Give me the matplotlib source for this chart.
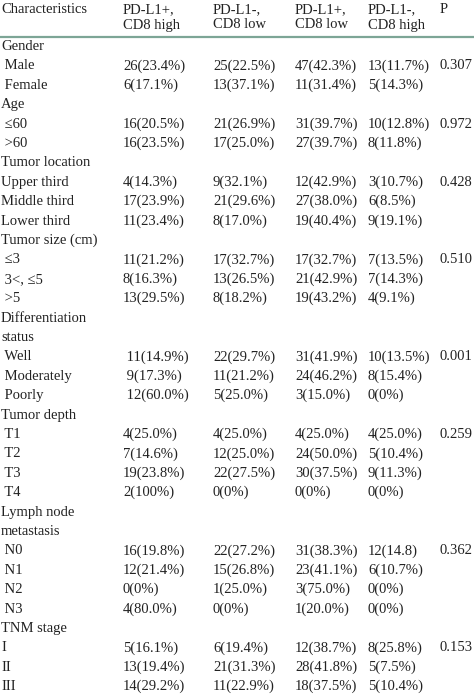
import matplotlib
matplotlib.use("Agg")
import matplotlib.pyplot as plt

headers = ["Characteristics", "PD-L1+,\nCD8 high", "PD-L1-,\nCD8 low", "PD-L1+,\nCD8 low", "PD-L1-,\nCD8 high", "P"]
characteristics = ["Gender", " Male", " Female", "Age", " ≤60", " >60", "Tumor location",
    "Upper third", "Middle third", "Lower third", "Tumor size (cm)", " ≤3", " 3<, ≤5", " >5",
    "Differentiation", "status", " Well", " Moderately", " Poorly", "Tumor depth",
    " T1", " T2", " T3", " T4", "Lymph node", "metastasis", " N0", " N1", " N2", " N3",
    "TNM stage", "I", "II", "III"]
col1 = ["", "26(23.4%)", "6(17.1%)", "", "16(20.5%)", "16(23.5%)", "", "4(14.3%)", "17(23.9%)", "11(23.4%)",
        "", "11(21.2%)", "8(16.3%)", "13(29.5%)", "", "", " 11(14.9%)", " 9(17.3%)", " 12(60.0%)", "",
        "4(25.0%)", "7(14.6%)", "19(23.8%)", "2(100%)", "", "", "16(19.8%)", "12(21.4%)", "0(0%)", "4(80.0%)",
        "", "5(16.1%)", "13(19.4%)", "14(29.2%)"]
col2 = ["", "25(22.5%)", "13(37.1%)", "", "21(26.9%)", "17(25.0%)", "", "9(32.1%)", "21(29.6%)", "8(17.0%)",
        "", "17(32.7%)", "13(26.5%)", "8(18.2%)", "", "", "22(29.7%)", "11(21.2%)", "5(25.0%)", "",
        "4(25.0%)", "12(25.0%)", "22(27.5%)", "0(0%)", "", "", "22(27.2%)", "15(26.8%)", "1(25.0%)", "0(0%)",
        "", "6(19.4%)", "21(31.3%)", "11(22.9%)"]
col3 = ["", "47(42.3%)", "11(31.4%)", "", "31(39.7%)", "27(39.7%)", "", "12(42.9%)", "27(38.0%)", "19(40.4%)",
        "", "17(32.7%)", "21(42.9%)", "19(43.2%)", "", "", "31(41.9%)", "24(46.2%)", "3(15.0%)", "",
        "4(25.0%)", "24(50.0%)", "30(37.5%)", "0(0%)", "", "", "31(38.3%)", "23(41.1%)", "3(75.0%)", "1(20.0%)",
        "", "12(38.7%)", "28(41.8%)", "18(37.5%)"]
col4 = ["", "13(11.7%)", "5(14.3%)", "", "10(12.8%)", "8(11.8%)", "", "3(10.7%)", "6(8.5%)", "9(19.1%)",
        "", "7(13.5%)", "7(14.3%)", "4(9.1%)", "", "", "10(13.5%)", "8(15.4%)", "0(0%)", "",
        "4(25.0%)", "5(10.4%)", "9(11.3%)", "0(0%)", "", "", "12(14.8)", "6(10.7%)", "0(0%)", "0(0%)",
        "", "8(25.8%)", "5(7.5%)", "5(10.4%)"]
pvals = ["", "0.307", "", "", "0.972", "", "", "0.428", "", "", "", "0.510", "", "", "", "", "0.001", "", "", "",
         "0.259", "", "", "", "", "", "0.362", "", "", "", "", "0.153", "", ""]

W, H = 474, 696
fig = plt.figure(figsize=(W/100, H/100), dpi=100)
ax = fig.add_axes([0, 0, 1, 1])
ax.set_xlim(0, W); ax.set_ylim(H, 0); ax.axis("off")
font = dict(family=["Liberation Serif", "DejaVu Serif"], fontsize=10.5, color="#222222")
xs = [1, 123, 213, 295, 368, 440]

for x, h in zip(xs, headers):
    ax.text(x, 3, h, va="top", ha="left", linespacing=1.25, **font)
ax.plot([0, W], [36.5, 36.5], color="#7da596", lw=1.6)

y0, dy = 46.5, 19.4
cols = [characteristics, col1, col2, col3, col4, pvals]
for i in range(len(characteristics)):
    y = y0 + i*dy
    for x, c in zip(xs, cols):
        if c[i]:
            ax.text(x, y, c[i], va="center", ha="left", **font)

fig.savefig("out.png", dpi=100)
